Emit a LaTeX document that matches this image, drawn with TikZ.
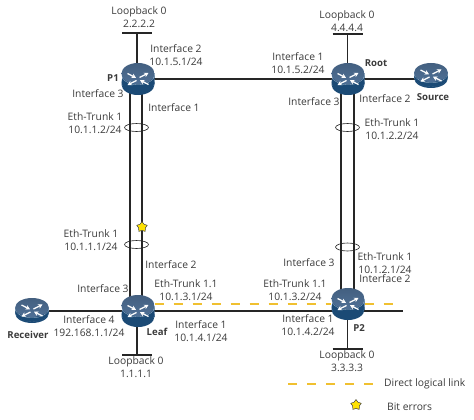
\documentclass[tikz,border=0pt]{standalone}
\usepackage{fontspec}
\setmainfont{Open Sans}
\usetikzlibrary{arrows.meta,shapes.geometric}
\definecolor{routertop}{HTML}{4F7096}
\definecolor{routerlow}{HTML}{1B4A75}
\definecolor{routerrim}{HTML}{A9BCCF}
\definecolor{textgray}{HTML}{3A3A3A}
\definecolor{logical}{HTML}{F0C030}
\newcommand{\routerart}[3]{% half width, ellipse radius, offset
  \fill[routerlow] (0,#3) ellipse[x radius=#1,y radius=#2];
  \fill[routerlow] (-#1,-#3) rectangle (#1,#3);
  \draw[routerrim,line width=0.4] (0,0.4*#3) ellipse[x radius=#1,y radius=#2];
  \fill[routerlow] (0,0.6*#3) ellipse[x radius=#1,y radius=#2];
  \draw[routerrim,line width=0.3] (0,-#3+0.8) ellipse[x radius=#1,y radius=#2];
  \shade[top color=routertop!85!black,bottom color=routertop] (0,-#3) ellipse[x radius=#1,y radius=#2];
  \begin{scope}[shift={(0,-#3)},xscale=#1/16.5,yscale=#2/10.5]
  \draw[white,line width=1.3,-{Stealth[length=4.4,width=4.8]}] (-1.5,1.5) -- (-10.5,6);
  \draw[white,line width=1.3,-{Stealth[length=4.4,width=4.8]}] (1.5,-1.5) -- (10.5,-6);
  \draw[white,line width=1.3,-{Stealth[length=4.4,width=4.8]}] (-10.5,-5.5) -- (-2,-1.2);
  \draw[white,line width=1.3,-{Stealth[length=4.4,width=4.8]}] (10.5,5.5) -- (2,1.2);
  \end{scope}
}
\tikzset{
  router/.style={minimum width=33,minimum height=32,inner sep=0,
    path picture={\begin{scope}[shift={(path picture bounding box.center)}]\routerart{16.5}{10.5}{5.5}\end{scope}}},
  hostrouter/.style={minimum width=34,minimum height=25,inner sep=0,
    path picture={\begin{scope}[shift={(path picture bounding box.center)}]\routerart{16.8}{9.5}{3}\end{scope}}},
  lbl/.style={align=center,inner sep=0,text=textgray,font=\fontsize{10.3}{13}\selectfont},
  devname/.style={lbl,font=\fontsize{9.6}{13}\selectfont\bfseries},
  link/.style={line width=1.1,black!85},
  trunk/.style={draw=black!85,line width=0.6,ellipse,minimum width=24,minimum height=8,inner sep=0},
  logicallink/.style={logical,line width=1.1,dash pattern=on 9 off 10},
  biterror/.style={star,star points=5,star point ratio=1.6,fill=yellow!85!orange,draw=black!75,line width=0.5,minimum size=11,inner sep=0}
}
\begin{document}
\begin{tikzpicture}[x=1pt,y=-1pt]
\useasboundingbox (0,0) rectangle (474,420);
\coordinate (P1top) at (137,33);
\coordinate (Roottop) at (347.5,34);
\coordinate (Leafdown) at (137,355);
\coordinate (P2down) at (347.5,349);
\coordinate (P2stub) at (403,311);
\coordinate (P2dash) at (395,304);
\coordinate (keyleft) at (288,384);
\coordinate (keyright) at (376,384);

% links first, routers on top
\draw[link] (137,79) -- (348,79);
\draw[link] (348,79) -- (431,79);
\draw[link] (32,311) -- (138,311);
\draw[link] (138,311) -- (P2stub);
\draw[link] (130,79) -- (130,311);
\draw[link] (142,79) -- (142,311);
\draw[link] (341,79) -- (341,304);
\draw[link] (354,79) -- (354,304);

\node[router] (P1) at (138,79) {};
\node[router] (Root) at (348,79) {};
\node[router] (Leaf) at (138,311) {};
\node[router] (P2) at (348,304) {};
\node[hostrouter] (Source) at (431,75.5) {};
\node[hostrouter] (Receiver) at (32,310.5) {};

\draw[link] (P1top) -- (P1top |- P1.north);
\draw[link] (Roottop) -- (Roottop |- Root.north);
\draw[link] (Leafdown) -- (Leafdown |- Leaf.south);
\draw[link] (P2down) -- (P2down |- P2.south);
\draw[link] ([xshift=-15]P1top) -- ([xshift=15]P1top);
\draw[link] ([xshift=-15]Roottop) -- ([xshift=15]Roottop);
\draw[link] ([xshift=-15]Leafdown) -- ([xshift=15]Leafdown);
\draw[link] ([xshift=-15]P2down) -- ([xshift=15]P2down);

\draw[logicallink] ([yshift=7]Leaf.east) -- (P2.west);
\draw[logicallink] (P2.east) -- (P2dash);
\draw[logicallink] (keyleft) -- (keyright);

\node[trunk] (trunkP1) at (136.5,127.5) {};
\node[trunk] (trunkRoot) at (347.5,127.5) {};
\node[trunk] (trunkLeaf) at (136.5,244.5) {};
\node[trunk] (trunkP2) at (347.5,247) {};
\node[biterror] (errlink) at (142,227) {};
\node[biterror] (errkey) at (356,405) {};

\node[lbl] (lbP1) at (139,17.5) {Loopback 0\\2.2.2.2};
\node[lbl] (ifP1b) at (176,55) {Interface 2\\10.1.5.1/24};
\node[devname] (nameP1) at (113,78) {P1};
\node[lbl] (ifP1c) at (98,94) {Interface 3};
\node[lbl] (ifP1a) at (174,108) {Interface 1};
\node[lbl] (ethP1) at (95,123.5) {Eth-Trunk 1\\10.1.1.2/24};

\node[lbl] (lbRoot) at (347,21.5) {Loopback 0\\4.4.4.4};
\node[lbl] (ifRoota) at (298,63.5) {Interface 1\\10.1.5.2/24};
\node[devname] (nameRoot) at (376,63) {Root};
\node[devname] (nameSource) at (433,97) {Source};
\node[lbl] (ifRootb) at (385,99) {Interface 2};
\node[lbl] (ifRootc) at (314,102) {Interface 3};
\node[lbl] (ethRoot) at (392,129) {Eth-Trunk 1\\10.1.2.2/24};

\node[lbl] (ethLeaf) at (91,240.5) {Eth-Trunk 1\\10.1.1.1/24};
\node[lbl] (ifLeafb) at (171,265) {Interface 2};
\node[lbl] (ifLeafc) at (103,289) {Interface 3};
\node[lbl] (subLeaf) at (186,290) {Eth-Trunk 1.1\\10.1.3.1/24};
\node[lbl] (ifLeafd) at (89,326.5) {Interface 4\\192.168.1.1/24};
\node[devname] (nameReceiver) at (28,335) {Receiver};
\node[devname] (nameLeaf) at (157,332) {Leaf};
\node[lbl] (ifLeafa) at (201,331.5) {Interface 1\\10.1.4.1/24};
\node[lbl] (lbLeaf) at (136,367.5) {Loopback 0\\1.1.1.1};

\node[lbl] (ifP2c) at (309,263) {Interface 3};
\node[lbl] (ethP2) at (385,263) {Eth-Trunk 1\\10.1.2.1/24};
\node[lbl] (ifP2b) at (385,279) {Interface 2};
\node[lbl] (subP2) at (295,290) {Eth-Trunk 1.1\\10.1.3.2/24};
\node[lbl] (ifP2a) at (308,325) {Interface 1\\10.1.4.2/24};
\node[devname] (nameP2) at (359,328) {P2};
\node[lbl] (lbP2) at (347,361.5) {Loopback 0\\3.3.3.3};

\node[lbl,anchor=west] (keylogical) at (384,384) {Direct logical link};
\node[lbl,anchor=west] (keyerror) at (387,407) {Bit errors};
\end{tikzpicture}
\end{document}
